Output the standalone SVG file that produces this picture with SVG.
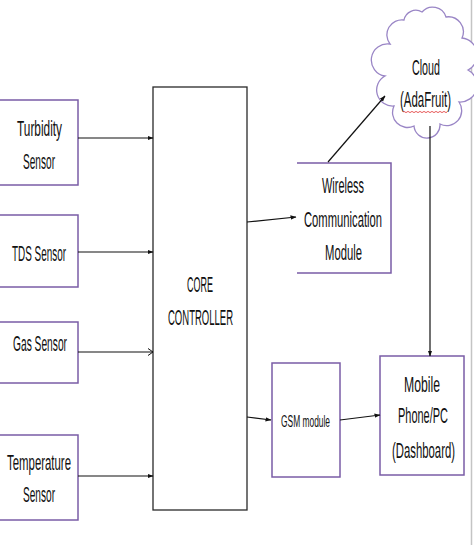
<svg xmlns="http://www.w3.org/2000/svg" width="474" height="545" viewBox="0 0 474 545">
<style>
.box{fill:#fff;stroke:#7a5ca6;stroke-width:1.5}
.core{fill:#fff;stroke:#2a2a2a;stroke-width:1.3}
.cloud{fill:#fff;stroke:#9a86c6;stroke-width:1.3}
.t{font-family:"Liberation Sans",Arial,sans-serif;font-size:22px;fill:#111;text-anchor:middle}
.s{font-size:17px}
.c{stroke:#111;stroke-width:1.2;fill:none}
</style>
<defs>
<marker id="ah" viewBox="0 0 6 6" refX="5.5" refY="3" markerWidth="6" markerHeight="6" markerUnits="userSpaceOnUse" orient="auto">
<path d="M0,0.8 L6,3 L0,5.2 Z" fill="#111"/>
</marker>
<marker id="ao" viewBox="0 0 6 8" refX="5.5" refY="4" markerWidth="6" markerHeight="8" markerUnits="userSpaceOnUse" orient="auto">
<path d="M0.5,0.5 L5.5,4 L0.5,7.5" fill="none" stroke="#111" stroke-width="1"/>
</marker>
</defs>
<rect width="474" height="545" fill="#fff"/>
<line x1="471.5" y1="0" x2="471.5" y2="545" stroke="#c4c4c4" stroke-width="1.5"/>
<g id="turbidity">
<rect class="box" x="-2" y="100" width="80" height="85"/>
<text class="t" transform="translate(39.5,136) scale(0.55,1)" x="0" y="0" textLength="81.8" lengthAdjust="spacingAndGlyphs">Turbidity</text>
<text class="t" transform="translate(39,169) scale(0.55,1)" x="0" y="0" textLength="58.2" lengthAdjust="spacingAndGlyphs">Sensor</text>
</g>
<g id="tds">
<rect class="box" x="-2" y="215" width="80" height="72"/>
<text class="t" transform="translate(39,261) scale(0.55,1)" x="0" y="0" textLength="98.2" lengthAdjust="spacingAndGlyphs">TDS Sensor</text>
</g>
<g id="gas">
<rect class="box" x="-2" y="322" width="80" height="61"/>
<text class="t" transform="translate(40,351) scale(0.55,1)" x="0" y="0" textLength="98.2" lengthAdjust="spacingAndGlyphs">Gas Sensor</text>
</g>
<g id="temperature">
<rect class="box" x="-2" y="435" width="80" height="85"/>
<text class="t" transform="translate(39,470) scale(0.55,1)" x="0" y="0" textLength="116.4" lengthAdjust="spacingAndGlyphs">Temperature</text>
<text class="t" transform="translate(39,502) scale(0.55,1)" x="0" y="0" textLength="58.2" lengthAdjust="spacingAndGlyphs">Sensor</text>
</g>
<g id="core">
<rect class="core" x="153" y="87" width="94" height="423"/>
<text class="t" transform="translate(200,292) scale(0.55,1)" x="0" y="0" textLength="47.3" lengthAdjust="spacingAndGlyphs">CORE</text>
<text class="t" transform="translate(200.5,325) scale(0.55,1)" x="0" y="0" textLength="118.2" lengthAdjust="spacingAndGlyphs">CONTROLLER</text>
</g>
<g id="wireless">
<rect x="297" y="163" width="94" height="110" fill="#fff"/>
<path class="box" d="M297,163 H391 V273 H297" fill="none"/>
<text class="t" transform="translate(343,193) scale(0.55,1)" x="0" y="0" textLength="76.4" lengthAdjust="spacingAndGlyphs">Wireless</text>
<text class="t" transform="translate(343,227) scale(0.55,1)" x="0" y="0" textLength="141.8" lengthAdjust="spacingAndGlyphs">Communication</text>
<text class="t" transform="translate(343.5,260) scale(0.55,1)" x="0" y="0" textLength="67.3" lengthAdjust="spacingAndGlyphs">Module</text>
</g>
<g id="cloud">
<path class="cloud" d="M422,12 A14,14 0 0 1 446,17 A15,15 0 0 1 462,38 A17,17 0 0 1 468,70 A17,17 0 0 1 459,102 A15,15 0 0 1 440,124 A13,13 0 0 1 414,126 A15,15 0 0 1 394,106 A16,16 0 0 1 385,76 A16,16 0 0 1 390,44 A15,15 0 0 1 404,20 A12,12 0 0 1 422,12 Z"/>
<text class="t" transform="translate(426,75) scale(0.55,1)" x="0" y="0" textLength="50.9" lengthAdjust="spacingAndGlyphs">Cloud</text>
<text class="t" transform="translate(425.5,107) scale(0.55,1)" x="0" y="0" textLength="92.7" lengthAdjust="spacingAndGlyphs">(AdaFruit)</text>
<path d="M403,112 q1,-1.2 2,0 t2,0 t2,0 t2,0 t2,0 t2,0 t2,0 t2,0 t2,0 t2,0 t2,0 t2,0 t2,0 t2,0 t2,0 t2,0 t2,0 t2,0 t2,0 t2,0 t2,0 t2,0" fill="none" stroke="#e03030" stroke-width="0.8"/>
</g>
<g id="gsm">
<rect class="box" x="272" y="363" width="68" height="114"/>
<text class="t s" transform="translate(305.5,427) scale(0.55,1)" x="0" y="0" textLength="89.1" lengthAdjust="spacingAndGlyphs">GSM module</text>
</g>
<g id="mobile">
<rect class="box" x="380" y="356" width="84" height="119"/>
<text class="t" transform="translate(422,392) scale(0.55,1)" x="0" y="0" textLength="65.5" lengthAdjust="spacingAndGlyphs">Mobile</text>
<text class="t" transform="translate(423,423) scale(0.55,1)" x="0" y="0" textLength="90.9" lengthAdjust="spacingAndGlyphs">Phone/PC</text>
<text class="t" transform="translate(423.5,458) scale(0.55,1)" x="0" y="0" textLength="114.5" lengthAdjust="spacingAndGlyphs">(Dashboard)</text>
</g>
<g id="connectors">
<line class="c" x1="78" y1="138" x2="153" y2="138" marker-end="url(#ah)"/>
<line class="c" x1="78" y1="252" x2="153" y2="252" marker-end="url(#ah)"/>
<line class="c" x1="78" y1="352" x2="153" y2="352" marker-end="url(#ao)"/>
<line class="c" x1="78" y1="476" x2="153" y2="476" marker-end="url(#ah)"/>
<line class="c" x1="247" y1="222" x2="296" y2="217" marker-end="url(#ah)"/>
<line class="c" x1="247" y1="417" x2="271" y2="420" marker-end="url(#ah)"/>
<line class="c" x1="340" y1="420" x2="380" y2="415" marker-end="url(#ah)"/>
<line class="c" x1="328" y1="162" x2="385" y2="96" marker-end="url(#ah)"/>
<line class="c" x1="430" y1="126" x2="430" y2="356" marker-end="url(#ah)"/>
</g>
</svg>
